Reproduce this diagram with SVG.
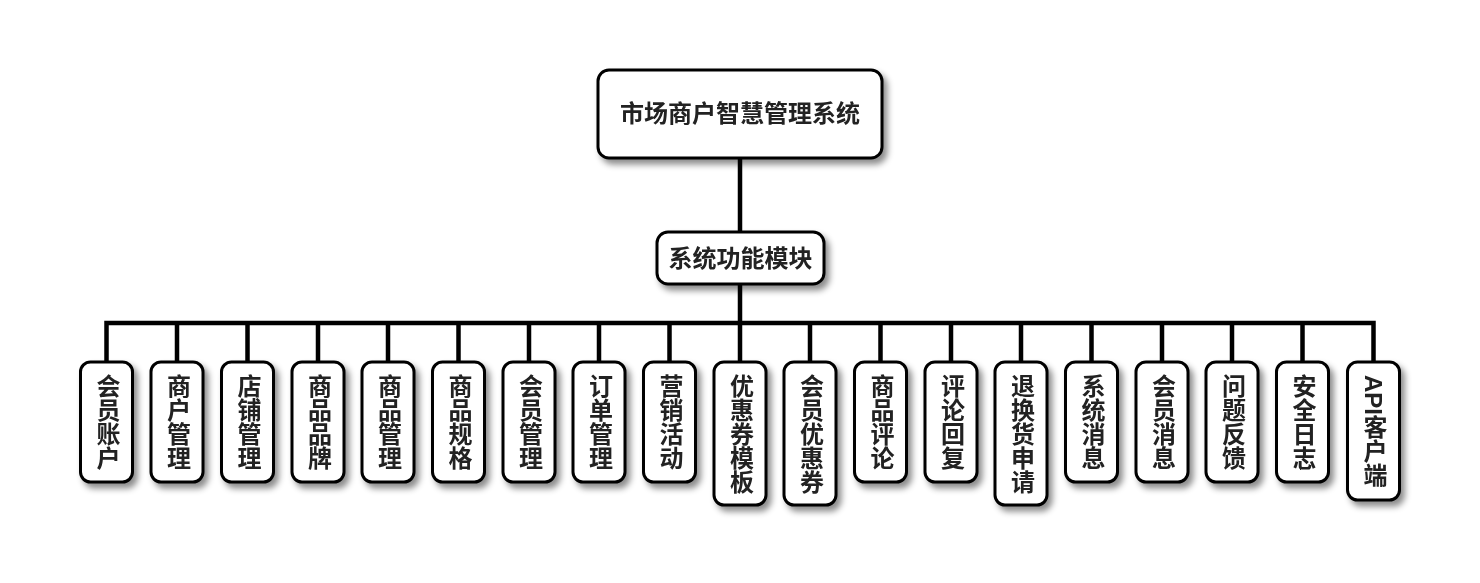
<svg xmlns="http://www.w3.org/2000/svg" width="1480" height="583" viewBox="0 0 1480 583">
<style>
.box{fill:#fff;stroke:#000;stroke-width:3}
.t{font-family:"Liberation Sans","Noto Sans CJK SC",sans-serif;font-weight:bold;font-size:24px;fill:#222}
.v{font-family:"Liberation Sans","Noto Sans CJK SC",sans-serif;font-weight:bold;font-size:24px;fill:#222;writing-mode:vertical-rl}
.c{fill:none;stroke:#000;stroke-width:4.5}
</style>
<defs>
<filter id="sh" x="-30%" y="-30%" width="160%" height="160%">
<feDropShadow dx="4" dy="5" stdDeviation="3" flood-color="#000" flood-opacity="0.45"/>
</filter>
</defs>
<g id="connectors">
<path class="c" d="M740 158V232M740 284V323M106.5 362V323H1373.5V362"/>
<path class="c" d="M177 323V362M247.5 323V362M318 323V362M388 323V362M458.5 323V362M529 323V362M599 323V362M669.5 323V362M740 323V362M810 323V362M880.5 323V362M951 323V362M1021 323V362M1091.5 323V362M1162 323V362M1232 323V362M1302.5 323V362"/>
</g>
<g id="root" filter="url(#sh)">
<rect class="box" x="598" y="70" width="284" height="88" rx="11"/>
<text class="t" x="740" y="122" text-anchor="middle">市场商户智慧管理系统</text>
</g>
<g id="modules" filter="url(#sh)">
<rect class="box" x="657" y="232" width="167" height="52" rx="11"/>
<text class="t" x="740.5" y="267" text-anchor="middle">系统功能模块</text>
</g>
<g id="n1" filter="url(#sh)"><rect class="box" x="80.5" y="362" width="52" height="120" rx="10"/><text class="v" x="106.5" y="422" text-anchor="middle">会员账户</text></g>
<g id="n2" filter="url(#sh)"><rect class="box" x="151" y="362" width="52" height="120" rx="10"/><text class="v" x="177" y="422" text-anchor="middle">商户管理</text></g>
<g id="n3" filter="url(#sh)"><rect class="box" x="221.5" y="362" width="52" height="120" rx="10"/><text class="v" x="247.5" y="422" text-anchor="middle">店铺管理</text></g>
<g id="n4" filter="url(#sh)"><rect class="box" x="292" y="362" width="52" height="120" rx="10"/><text class="v" x="318" y="422" text-anchor="middle">商品品牌</text></g>
<g id="n5" filter="url(#sh)"><rect class="box" x="362" y="362" width="52" height="120" rx="10"/><text class="v" x="388" y="422" text-anchor="middle">商品管理</text></g>
<g id="n6" filter="url(#sh)"><rect class="box" x="432.5" y="362" width="52" height="120" rx="10"/><text class="v" x="458.5" y="422" text-anchor="middle">商品规格</text></g>
<g id="n7" filter="url(#sh)"><rect class="box" x="503" y="362" width="52" height="120" rx="10"/><text class="v" x="529" y="422" text-anchor="middle">会员管理</text></g>
<g id="n8" filter="url(#sh)"><rect class="box" x="573" y="362" width="52" height="120" rx="10"/><text class="v" x="599" y="422" text-anchor="middle">订单管理</text></g>
<g id="n9" filter="url(#sh)"><rect class="box" x="643.5" y="362" width="52" height="120" rx="10"/><text class="v" x="669.5" y="422" text-anchor="middle">营销活动</text></g>
<g id="n10" filter="url(#sh)"><rect class="box" x="714" y="362" width="52" height="143" rx="10"/><text class="v" x="740" y="433.5" text-anchor="middle">优惠券模板</text></g>
<g id="n11" filter="url(#sh)"><rect class="box" x="784" y="362" width="52" height="143" rx="10"/><text class="v" x="810" y="433.5" text-anchor="middle">会员优惠券</text></g>
<g id="n12" filter="url(#sh)"><rect class="box" x="854.5" y="362" width="52" height="120" rx="10"/><text class="v" x="880.5" y="422" text-anchor="middle">商品评论</text></g>
<g id="n13" filter="url(#sh)"><rect class="box" x="925" y="362" width="52" height="120" rx="10"/><text class="v" x="951" y="422" text-anchor="middle">评论回复</text></g>
<g id="n14" filter="url(#sh)"><rect class="box" x="995" y="362" width="52" height="143" rx="10"/><text class="v" x="1021" y="433.5" text-anchor="middle">退换货申请</text></g>
<g id="n15" filter="url(#sh)"><rect class="box" x="1065.5" y="362" width="52" height="120" rx="10"/><text class="v" x="1091.5" y="422" text-anchor="middle">系统消息</text></g>
<g id="n16" filter="url(#sh)"><rect class="box" x="1136" y="362" width="52" height="120" rx="10"/><text class="v" x="1162" y="422" text-anchor="middle">会员消息</text></g>
<g id="n17" filter="url(#sh)"><rect class="box" x="1206" y="362" width="52" height="120" rx="10"/><text class="v" x="1232" y="422" text-anchor="middle">问题反馈</text></g>
<g id="n18" filter="url(#sh)"><rect class="box" x="1276.5" y="362" width="52" height="120" rx="10"/><text class="v" x="1302.5" y="422" text-anchor="middle">安全日志</text></g>
<g id="n19" filter="url(#sh)"><rect class="box" x="1347.5" y="362" width="52" height="138" rx="10"/><text class="v" x="1373.5" y="431" text-anchor="middle">API客户端</text></g>
</svg>
